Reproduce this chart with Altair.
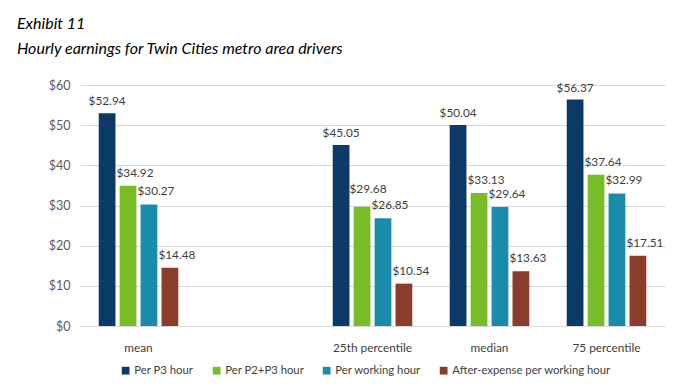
import altair as alt
import pandas as pd

categories = ["mean", " ", "25th percentile", "median", "75 percentile"]
groups = ["mean", "25th percentile", "median", "75 percentile"]
series = ["Per P3 hour", "Per P2+P3 hour", "Per working hour", "After-expense per working hour"]
colors = ["#0b3a66", "#78bc28", "#1a8cab", "#8b3d2c"]

per_p3 = [52.94, 45.05, 50.04, 56.37]
per_p2p3 = [34.92, 29.68, 33.13, 37.64]
per_working = [30.27, 26.85, 29.64, 32.99]
after_expense = [14.48, 10.54, 13.63, 17.51]

rows = []
for s, vals in zip(series, [per_p3, per_p2p3, per_working, after_expense]):
    for g, v in zip(groups, vals):
        rows.append({"group": g, "series": s, "value": v})
df = pd.DataFrame(rows)

FONT = "Lato"

x = alt.X("group:N", sort=categories,
          scale=alt.Scale(domain=categories, paddingInner=0.32, paddingOuter=0.16),
          axis=alt.Axis(title=None, labelAngle=0, ticks=False, domain=False,
                        labelPadding=16, labelFontSize=11.8, labelColor="#404040",
                        labelFont=FONT))
xo = alt.XOffset("series:N", sort=series, scale=alt.Scale(domain=series, paddingInner=0.2))
y = alt.Y("value:Q", scale=alt.Scale(domain=[0, 60]),
          axis=alt.Axis(title=None, values=[0, 10, 20, 30, 40, 50, 60], format="$.0f",
                        ticks=False, domain=False, gridColor="#d9d9d9", labelPadding=10,
                        labelFontSize=12.5, labelColor="#595959", labelFont=FONT,
                        minExtent=63, maxExtent=63))

bars = alt.Chart(df).mark_bar().encode(
    x=x, xOffset=xo, y=y,
    color=alt.Color("series:N", sort=series,
                    scale=alt.Scale(domain=series, range=colors),
                    legend=alt.Legend(title=None, orient="none", direction="horizontal",
                                      legendX=40, legendY=280, symbolType="square",
                                      symbolSize=60, symbolStrokeWidth=0,
                                      labelFontSize=11.3, labelColor="#404040",
                                      labelFont=FONT, columnPadding=17, labelOffset=3,
                                      labelLimit=400)),
)

first = "datum.series == 'Per P3 hour'"
raised = "datum.group == '25th percentile' && datum.series == 'Per P2+P3 hour'"


def label_layer(filt, dx, dy):
    return alt.Chart(df).transform_filter(filt).mark_text(
        dx=dx, dy=dy, fontSize=11.8, color="#404040", font=FONT).encode(
        x=x, xOffset=xo, y=y,
        text=alt.Text("value:Q", format="$.2f"),
    )


labels_first = label_layer(first, 0, -12)
labels_rest = label_layer("!(" + first + ") && !(" + raised + ")", 7, -13)
labels_raised = label_layer(raised, 6, -18)

chart = alt.layer(bars, labels_first, labels_rest, labels_raised).properties(
    width=585, height=241,
    padding={"left": 9, "top": 8, "right": 5, "bottom": 5},
    title=alt.TitleParams(
        ["Exhibit 11", "Hourly earnings for Twin Cities metro area drivers"],
        anchor="start", fontStyle="italic", fontWeight="normal", fontSize=16,
        font=FONT, color="#000000", lineHeight=25, offset=22,
    ),
).configure_view(stroke=None)

chart.save("out.html", embed_options={"renderer": "svg", "actions": False})
